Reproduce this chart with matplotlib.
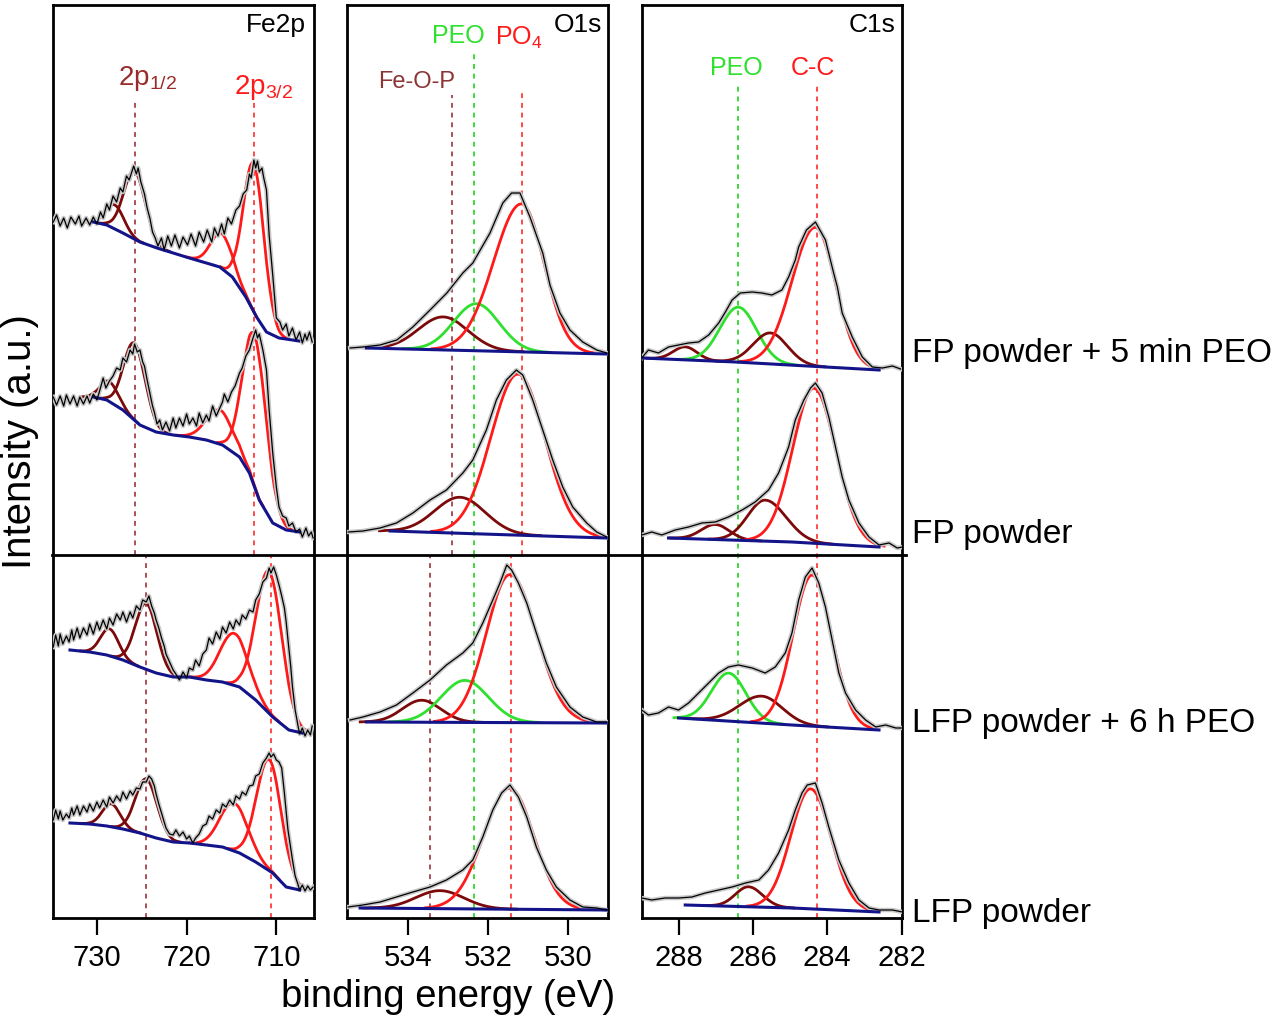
import matplotlib.pyplot as plt
from matplotlib.lines import Line2D
import numpy as np

# XPS spectra (Fe2p, O1s, C1s) of FP / LFP powders with and without PEO.
# Each spectrum: measured points (binding energy, intensity), a background
# (Shirley-like) and fitted components (name, centre, height, sigma high-E side,
# sigma low-E side). Intensities are arbitrary units.

samples = ['FP powder + 5 min PEO', 'FP powder', 'LFP powder + 6 h PEO', 'LFP powder']

# ---------------- Fe2p ----------------
fe_fp_peo = [(734.86, 696), (734.5, 703), (734.1, 692), (733.7, 700), (733.3, 690), (732.9, 701),
             (732.4, 694), (732.0, 702), (731.7, 692), (731.2, 700), (730.8, 693), (730.4, 701),
             (730.0, 694), (729.6, 706), (729.3, 700), (728.9, 714), (728.6, 708), (728.2, 722),
             (727.8, 716), (727.4, 730), (727.1, 726), (726.7, 742), (726.4, 738), (725.9, 752),
             (725.6, 744), (725.4, 750), (725.1, 736), (724.7, 724), (724.4, 710), (724.1, 700),
             (723.8, 686), (723.5, 680), (723.2, 672), (722.8, 680), (722.5, 668), (722.1, 682),
             (721.7, 672), (721.3, 683), (720.8, 670), (720.4, 681), (719.9, 673), (719.5, 684),
             (719.0, 672), (718.6, 686), (718.1, 676), (717.7, 688), (717.2, 676), (716.9, 690),
             (716.5, 682), (716.1, 694), (715.8, 684), (715.4, 700), (715.0, 694), (714.5, 708),
             (714.1, 712), (713.7, 724), (713.3, 728), (713.0, 744), (712.8, 740), (712.5, 758),
             (712.3, 750), (712.1, 757), (711.9, 746), (711.6, 750), (711.4, 740), (711.1, 728),
             (710.8, 683), (710.4, 643), (710.0, 600), (709.6, 596), (709.3, 588), (708.9, 594),
             (708.6, 582), (708.2, 590), (707.8, 578), (707.4, 586), (707.1, 575), (706.8, 584),
             (706.6, 578), (706.3, 586), (706.0, 576)]
fe_fp_peo_bg = [(730.4, 696), (728.9, 693), (727.1, 685), (725.2, 676), (723.3, 670), (721.5, 665),
                (719.7, 660), (717.8, 655), (716.3, 651), (714.9, 641), (713.4, 621), (712.2, 601),
                (711.1, 586), (709.7, 580), (708.2, 578), (707.5, 577)]
fe_fp_peo_peaks = [('2p1/2', 728.0, 24, 1.0, 1.0), ('2p1/2', 725.8, 68, 1.2, 1.2),
                   ('2p3/2', 716.1, 35, 1.2, 1.2), ('2p3/2', 712.5, 148, 1.15, 1.15)]

fe_fp = [(734.86, 521), (734.5, 513), (734.1, 522), (733.7, 512), (733.4, 523), (733.0, 514),
         (732.6, 522), (732.2, 512), (731.9, 521), (731.5, 514), (731.1, 522), (730.8, 515),
         (730.4, 524), (730.0, 518), (729.7, 527), (729.3, 540), (729.0, 530), (728.6, 537),
         (728.2, 542), (727.8, 550), (727.4, 548), (727.1, 560), (726.7, 556), (726.3, 568),
         (726.0, 564), (725.8, 574), (725.5, 566), (725.2, 568), (724.9, 556), (724.7, 552),
         (724.4, 538), (724.1, 525), (723.8, 512), (723.6, 506), (723.3, 494), (723.0, 498),
         (722.7, 488), (722.3, 496), (721.9, 487), (721.5, 500), (721.2, 490), (720.8, 500),
         (720.4, 492), (720.0, 504), (719.7, 494), (719.3, 500), (718.9, 492), (718.6, 505),
         (718.2, 495), (717.8, 503), (717.5, 497), (717.1, 512), (716.7, 502), (716.3, 510),
         (716.0, 516), (715.8, 524), (715.4, 516), (715.0, 526), (714.6, 532), (714.1, 545),
         (713.8, 550), (713.4, 562), (713.0, 568), (712.6, 580), (712.3, 588), (712.1, 580),
         (711.9, 584), (711.5, 568), (711.1, 548), (710.8, 508), (710.4, 465), (710.0, 431),
         (709.7, 411), (709.3, 402), (708.9, 400), (708.6, 392), (708.2, 395), (707.8, 386),
         (707.4, 389), (707.1, 381), (706.7, 390), (706.4, 382), (706.1, 386), (705.9, 380)]
fe_fp_bg = [(730.4, 521), (728.9, 518), (727.1, 508), (725.2, 493), (723.4, 486), (721.5, 483),
            (719.7, 481), (717.8, 478), (716.0, 473), (714.1, 461), (713.0, 445), (711.9, 418),
            (710.4, 395), (708.9, 388), (707.4, 386)]
fe_fp_peaks = [('2p1/2', 728.6, 20, 1.0, 1.0), ('2p1/2', 725.8, 77, 1.2, 1.2),
               ('2p3/2', 716.3, 34, 1.5, 1.5), ('2p3/2', 712.4, 152, 1.3, 1.3)]

fe_lfp_peo = [(734.86, 271), (734.6, 283), (734.3, 272), (734.1, 284), (733.8, 274), (733.4, 282),
              (733.1, 276), (732.8, 288), (732.6, 278), (732.2, 290), (731.9, 280), (731.5, 290),
              (731.1, 283), (730.8, 294), (730.4, 284), (730.0, 296), (729.7, 288), (729.3, 298),
              (728.9, 289), (728.6, 300), (728.2, 293), (727.8, 304), (727.4, 298), (727.1, 306),
              (726.7, 296), (726.3, 306), (726.0, 300), (725.6, 312), (725.2, 308), (724.9, 318),
              (724.5, 316), (724.2, 322), (723.9, 312), (723.6, 305), (723.4, 298), (723.1, 290),
              (722.8, 280), (722.5, 272), (722.3, 264), (721.9, 256), (721.5, 248), (721.2, 244),
              (720.8, 238), (720.4, 246), (720.0, 240), (719.7, 250), (719.3, 248), (719.0, 258),
              (718.6, 252), (718.2, 264), (717.8, 268), (717.5, 280), (717.1, 274), (716.7, 286),
              (716.3, 279), (716.0, 291), (715.6, 285), (715.2, 296), (714.8, 289), (714.5, 298),
              (714.1, 293), (713.8, 303), (713.4, 299), (713.0, 308), (712.6, 306), (712.3, 318),
              (711.9, 324), (711.5, 336), (711.1, 340), (710.8, 350), (710.6, 345), (710.3, 351),
              (710.0, 343), (709.7, 333), (709.4, 322), (709.1, 310), (708.9, 296), (708.7, 278),
              (708.4, 252), (708.2, 231), (707.9, 208), (707.6, 193), (707.4, 184), (707.1, 190),
              (706.8, 182), (706.5, 188), (706.2, 183), (706.0, 192)]
fe_lfp_peo_bg = [(733.0, 268), (730.8, 266), (728.9, 263), (727.1, 258), (725.2, 251), (723.4, 245),
                 (721.5, 241), (719.7, 241), (717.8, 238), (716.0, 236), (714.1, 231), (712.3, 218),
                 (710.4, 201), (708.6, 188), (707.1, 185)]
fe_lfp_peo_peaks = [('2p1/2', 728.6, 27, 1.0, 1.0), ('2p1/2', 724.5, 66, 1.2, 1.2),
                    ('2p3/2', 714.7, 52, 1.55, 1.55), ('2p3/2', 710.8, 142, 1.45, 1.45)]

fe_lfp = [(734.86, 98), (734.6, 108), (734.3, 99), (734.1, 107), (733.8, 98), (733.4, 104),
          (733.1, 100), (732.8, 110), (732.6, 103), (732.2, 112), (731.9, 103), (731.5, 112),
          (731.1, 106), (730.8, 114), (730.4, 107), (730.0, 116), (729.7, 110), (729.3, 118),
          (728.9, 111), (728.6, 121), (728.2, 115), (727.8, 122), (727.4, 117), (727.1, 126),
          (726.7, 119), (726.3, 127), (726.0, 123), (725.6, 130), (725.2, 129), (724.9, 136),
          (724.5, 136), (724.2, 142), (723.9, 139), (723.6, 132), (723.4, 124), (723.1, 114),
          (722.8, 105), (722.5, 96), (722.3, 90), (721.9, 84), (721.5, 83), (721.2, 88),
          (720.8, 82), (720.4, 86), (720.0, 79), (719.7, 82), (719.3, 75), (719.0, 80),
          (718.6, 84), (718.2, 92), (717.8, 94), (717.5, 102), (717.1, 99), (716.7, 108),
          (716.3, 105), (716.0, 114), (715.6, 111), (715.2, 118), (714.8, 113), (714.5, 122),
          (714.1, 119), (713.8, 126), (713.4, 123), (713.0, 132), (712.6, 133), (712.3, 142),
          (711.9, 144), (711.5, 155), (711.1, 160), (710.8, 165), (710.6, 161), (710.3, 164),
          (710.0, 158), (709.7, 156), (709.4, 150), (709.1, 125), (708.9, 106), (708.7, 88),
          (708.4, 70), (708.2, 58), (707.9, 42), (707.6, 34), (707.4, 28), (707.1, 33),
          (706.8, 27), (706.5, 32), (706.2, 28), (705.9, 31)]
fe_lfp_bg = [(733.0, 95), (730.8, 94), (728.9, 92), (727.1, 89), (725.2, 85), (723.4, 80),
             (721.5, 76), (719.7, 75), (717.8, 73), (716.0, 71), (714.1, 65), (712.3, 56),
             (710.4, 45), (708.9, 31), (707.4, 28)]
fe_lfp_peaks = [('2p1/2', 728.4, 23, 1.0, 1.0), ('2p1/2', 724.5, 56, 1.2, 1.2),
                ('2p3/2', 714.7, 48, 1.55, 1.55), ('2p3/2', 710.8, 111, 1.4, 1.4)]

# ---------------- O1s ----------------
o_fp_peo = [(535.46, 570), (535.14, 571), (534.71, 573), (534.29, 578), (533.89, 591), (533.46, 608),
            (533.04, 625), (532.64, 645), (532.39, 655), (531.96, 685), (531.64, 715), (531.42, 725),
            (531.21, 725), (530.96, 701), (530.64, 665), (530.46, 633), (530.21, 605), (529.96, 588),
            (529.64, 576), (529.29, 568), (529.04, 565)]
o_fp_peo_bg = [(535.05, 570), (529.05, 564)]
o_fp_peo_peaks = [('Fe-O-P', 533.13, 33, 0.62, 0.62), ('PEO', 532.30, 47, 0.57, 0.57),
                  ('PO4', 531.17, 148, 0.70, 0.56)]

o_fp = [(535.51, 386), (535.14, 387), (534.71, 390), (534.30, 395), (533.89, 405), (533.46, 418),
        (533.05, 428), (532.64, 445), (532.39, 458), (532.05, 488), (531.80, 518), (531.55, 538),
        (531.30, 548), (531.14, 543), (530.89, 518), (530.64, 488), (530.39, 458), (530.14, 431),
        (529.89, 411), (529.54, 395), (529.29, 386), (529.04, 381)]
o_fp_bg = [(534.46, 387), (529.05, 380)]
o_fp_peaks = [('Fe-O-P', 532.71, 36, 0.63, 0.63), ('PO4', 531.26, 161, 0.675, 0.675)]

o_lfp_peo = [(535.46, 198), (535.14, 201), (534.71, 206), (534.30, 213), (533.89, 225), (533.46, 238),
             (533.05, 253), (532.64, 265), (532.39, 275), (532.14, 295), (531.89, 318), (531.71, 335),
             (531.54, 353), (531.42, 348), (531.25, 335), (531.04, 315), (530.80, 285), (530.55, 255),
             (530.30, 231), (529.96, 211), (529.64, 201), (529.29, 196), (529.04, 196)]
o_lfp_peo_bg = [(535.05, 196), (529.05, 195)]
o_lfp_peo_peaks = [('Fe-O-P', 533.67, 22, 0.48, 0.48), ('PEO', 532.59, 42, 0.59, 0.59),
                   ('PO4', 531.46, 148, 0.59, 0.66)]

o_lfp = [(535.51, 11), (535.14, 13), (534.71, 16), (534.30, 21), (533.89, 26), (533.46, 31),
         (533.05, 38), (532.64, 48), (532.39, 58), (532.14, 81), (531.89, 108), (531.67, 125),
         (531.46, 133), (531.25, 121), (531.04, 101), (530.80, 71), (530.55, 48), (530.30, 31),
         (529.96, 18), (529.64, 11), (529.29, 10), (529.04, 8)]
o_lfp_bg = [(535.21, 10), (529.04, 8)]
o_lfp_peaks = [('Fe-O-P', 533.21, 18, 0.6, 0.6), ('PO4', 531.46, 121, 0.66, 0.60)]

# ---------------- C1s ----------------
c_fp_peo = [(288.99, 560), (288.81, 568), (288.54, 565), (288.27, 571), (288.00, 573), (287.73, 575),
            (287.46, 576), (287.19, 583), (286.92, 595), (286.74, 606), (286.56, 618), (286.34, 625),
            (286.02, 626), (285.76, 625), (285.49, 623), (285.22, 628), (285.04, 641), (284.86, 658),
            (284.77, 671), (284.56, 688), (284.32, 696), (284.05, 678), (283.83, 645), (283.73, 631),
            (283.60, 605), (283.33, 581), (283.06, 561), (282.79, 551), (282.52, 550), (282.25, 552),
            (282.03, 549)]
c_fp_peo_bg = [(288.99, 560), (286.47, 556), (284.05, 551), (282.61, 548)]
c_fp_peo_peaks = [('C=O', 287.82, 13, 0.32, 0.32), ('PEO', 286.39, 55, 0.49, 0.49),
                  ('C-O', 285.53, 31, 0.46, 0.46), ('C-C', 284.32, 139, 0.63, 0.54)]

c_fp = [(288.99, 383), (288.72, 386), (288.45, 383), (288.09, 388), (287.73, 391), (287.37, 395),
        (287.01, 396), (286.66, 401), (286.29, 408), (285.94, 416), (285.58, 428), (285.31, 445),
        (285.04, 471), (284.86, 498), (284.63, 518), (284.45, 530), (284.32, 535), (284.14, 525),
        (283.96, 501), (283.78, 471), (283.60, 441), (283.42, 418), (283.15, 395), (282.88, 381),
        (282.61, 373), (282.34, 375), (282.12, 370), (281.98, 371)]
c_fp_bg = [(288.27, 380), (284.95, 376), (282.61, 371)]
c_fp_peaks = [('C=O', 287.01, 15, 0.38, 0.38), ('C-O', 285.67, 41, 0.47, 0.56),
              ('C-C', 284.36, 155, 0.57, 0.59)]

c_lfp_peo = [(288.99, 208), (288.81, 203), (288.54, 205), (288.27, 211), (288.00, 208), (287.73, 215),
             (287.46, 225), (287.19, 235), (286.92, 245), (286.66, 251), (286.39, 253), (286.02, 250),
             (285.67, 245), (285.40, 251), (285.13, 265), (284.95, 285), (284.77, 318), (284.59, 341),
             (284.41, 350), (284.23, 335), (284.05, 311), (283.87, 278), (283.69, 245), (283.51, 225),
             (283.24, 208), (282.97, 198), (282.70, 191), (282.43, 193), (282.16, 190), (281.98, 190)]
c_lfp_peo_bg = [(288.00, 200), (284.95, 193), (282.61, 188)]
c_lfp_peo_peaks = [('PEO', 286.65, 48, 0.46, 0.46), ('C-O', 285.76, 27, 0.60, 0.55),
                   ('C-C', 284.41, 151, 0.51, 0.53)]

c_lfp = [(288.99, 20), (288.72, 18), (288.36, 20), (288.00, 20), (287.64, 21), (287.28, 25),
         (286.92, 28), (286.56, 31), (286.20, 35), (285.84, 38), (285.58, 48), (285.31, 65),
         (285.04, 88), (284.86, 108), (284.68, 125), (284.54, 133), (284.32, 135), (284.14, 115),
         (283.96, 91), (283.69, 58), (283.42, 35), (283.15, 18), (282.88, 10), (282.61, 8),
         (282.25, 8), (281.98, 6)]
c_lfp_bg = [(287.82, 13), (284.95, 10), (282.61, 6)]
c_lfp_peaks = [('C-O', 286.12, 20, 0.35, 0.38), ('C-C', 284.45, 120, 0.53, 0.55)]

# reference energies (dashed lines)
fe_ref_top = [725.8, 712.5]
fe_ref_bottom = [724.5, 710.6]
o_ref_top = [532.9, 532.36, 531.15]
o_ref_bottom = [533.45, 532.36, 531.44]
c_ref = [286.39, 284.27]

DARK = '#7d0a0a'
RED = '#ff1a1a'
GREEN = '#2fe02f'
PEAK_COLORS = {'2p1/2': DARK, '2p3/2': RED, 'Fe-O-P': DARK, 'PEO': GREEN, 'PO4': RED,
               'C-C': RED, 'C-O': DARK, 'C=O': DARK}
DASH_DARK = '#a8505a'
DASH_RED = '#ff4a4a'
DASH_GREEN = '#3ddc3d'


def bg_at(bg, x):
    bx, by = np.array(bg, dtype=float).T
    order = np.argsort(bx)
    return np.interp(x, bx[order], by[order])


def draw_spectrum(ax, data, bg, peaks):
    """Plot one spectrum: components, fit envelope, background, data."""
    lo, hi = sorted(ax.get_xlim())
    dx, dy = np.array(data, dtype=float).T
    bx, by = np.array(bg, dtype=float).T
    for name, c, h, s_hi, s_lo in peaks:
        x = np.linspace(max(c - 3.2 * s_lo, lo), min(c + 3.2 * s_hi, hi), 300)
        s = np.where(x > c, s_hi, s_lo)
        y = bg_at(bg, x) + h * np.exp(-0.5 * ((x - c) / s) ** 2)
        ax.plot(x, y, color=PEAK_COLORS[name], lw=2.0, zorder=2)
    ax.plot(dx, dy, color='#c8c8c8', lw=3.2, zorder=3, solid_joinstyle='round')
    ax.plot(bx, by, color='#14148a', lw=2.2, zorder=4)
    ax.plot(dx, dy, color='black', lw=0.9, zorder=5)


def vline(ax, x, y0, y1, color):
    ax.plot([x, x], [y0, y1], color=color, lw=1.4, ls=(0, (2.5, 2.5)), zorder=1)


def run():
    plt.rcParams['font.family'] = ['Liberation Sans', 'DejaVu Sans']
    plt.rcParams['mathtext.fontset'] = 'custom'
    plt.rcParams['mathtext.rm'] = 'Liberation Sans'

    W, H = 1280, 1022
    fig = plt.figure(figsize=(W / 100, H / 100), dpi=100)

    bottom = (H - 918) / H
    height = 913 / H
    ax_fe = fig.add_axes([53.3 / W, bottom, 260.7 / W, height])
    ax_o = fig.add_axes([347.3 / W, bottom, 261.0 / W, height])
    ax_c = fig.add_axes([641.7 / W, bottom, 260.0 / W, height])

    ax_fe.set_xlim(734.86, 705.8)
    ax_o.set_xlim(535.53, 529.0)
    ax_c.set_xlim(288.99, 282.0)
    for ax in (ax_fe, ax_o, ax_c):
        ax.set_ylim(0, 913)

    # split between FP (top) and LFP (bottom)
    mid = 363

    # Fe2p
    for x, col in zip(fe_ref_top, [DASH_DARK, DASH_RED]):
        vline(ax_fe, x, mid, 818, col)
    for x, col in zip(fe_ref_bottom, [DASH_DARK, DASH_RED]):
        vline(ax_fe, x, 0, mid, col)
    draw_spectrum(ax_fe, fe_fp_peo, fe_fp_peo_bg, fe_fp_peo_peaks)
    draw_spectrum(ax_fe, fe_fp, fe_fp_bg, fe_fp_peaks)
    draw_spectrum(ax_fe, fe_lfp_peo, fe_lfp_peo_bg, fe_lfp_peo_peaks)
    draw_spectrum(ax_fe, fe_lfp, fe_lfp_bg, fe_lfp_peaks)
    ax_fe.text(706.7, 893, 'Fe2p', ha='right', va='center', fontsize=19)
    ax_fe.text(727.7, 833, r'2p$_{\mathregular{1/2}}$', color='#9a2b2b', fontsize=20, va='baseline')
    ax_fe.text(714.7, 824, r'2p$_{\mathregular{3/2}}$', color=RED, fontsize=20, va='baseline')

    # O1s
    vline(ax_o, o_ref_top[0], mid, 823, DASH_DARK)
    vline(ax_o, o_ref_top[1], mid, 868, DASH_GREEN)
    vline(ax_o, o_ref_top[2], mid, 825, DASH_RED)
    for x, col in zip(o_ref_bottom, [DASH_DARK, DASH_GREEN, DASH_RED]):
        vline(ax_o, x, 0, mid, col)
    draw_spectrum(ax_o, o_fp_peo, o_fp_peo_bg, o_fp_peo_peaks)
    draw_spectrum(ax_o, o_fp, o_fp_bg, o_fp_peaks)
    draw_spectrum(ax_o, o_lfp_peo, o_lfp_peo_bg, o_lfp_peo_peaks)
    draw_spectrum(ax_o, o_lfp, o_lfp_bg, o_lfp_peaks)
    ax_o.text(529.16, 893, 'O1s', ha='right', va='center', fontsize=19)
    ax_o.text(533.42, 875, 'PEO', color=GREEN, fontsize=18, va='baseline')
    ax_o.text(531.84, 873, r'PO$_{\mathregular{4}}$', color=RED, fontsize=18, va='baseline')
    ax_o.text(534.76, 830, 'Fe-O-P', color='#8b3535', fontsize=17, va='baseline')

    # C1s
    vline(ax_c, c_ref[0], 0, 836, DASH_GREEN)
    vline(ax_c, c_ref[1], 0, 836, DASH_RED)
    draw_spectrum(ax_c, c_fp_peo, c_fp_peo_bg, c_fp_peo_peaks)
    draw_spectrum(ax_c, c_fp, c_fp_bg, c_fp_peaks)
    draw_spectrum(ax_c, c_lfp_peo, c_lfp_peo_bg, c_lfp_peo_peaks)
    draw_spectrum(ax_c, c_lfp, c_lfp_bg, c_lfp_peaks)
    ax_c.text(282.16, 893, 'C1s', ha='right', va='center', fontsize=19)
    ax_c.text(287.15, 843, 'PEO', color=GREEN, fontsize=18, va='baseline')
    ax_c.text(284.99, 843, 'C-C', color=RED, fontsize=18, va='baseline')

    # Format
    ax_fe.set_xticks([730, 720, 710])
    ax_o.set_xticks([534, 532, 530])
    ax_c.set_xticks([288, 286, 284, 282])
    for ax in (ax_fe, ax_o, ax_c):
        ax.set_yticks([])
        for pos in ['left', 'right', 'top', 'bottom']:
            ax.spines[pos].set_linewidth(2.0)
        ax.tick_params(axis='x', direction='out', length=12, width=1.6,
                       labelsize=21, pad=7, top=False)

    # horizontal divider across all panels
    fig.add_artist(Line2D([52 / W, 906 / W], [1 - 555 / H] * 2, color='black', lw=2.0))

    # sample labels
    for name, base in zip(samples, [362, 543, 732, 922]):
        fig.text(912 / W, 1 - base / H, name, fontsize=24, va='baseline', ha='left')

    fig.text(448 / W, 1 - 997 / H, 'binding energy (eV)', ha='center', va='center', fontsize=27.5)
    fig.text(20 / W, 1 - 442 / H, 'Intensity (a.u.)', ha='center', va='center',
             rotation=90, fontsize=29)

    fig.savefig('out.png', dpi=100)


if __name__ == '__main__':
    run()
